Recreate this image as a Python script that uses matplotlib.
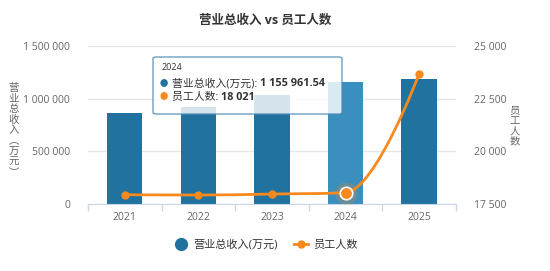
import matplotlib.pyplot as plt
import numpy as np
from matplotlib.path import Path
from matplotlib.patches import PathPatch, FancyBboxPatch
from matplotlib.lines import Line2D

plt.rcParams['font.family'] = ['Open Sans', 'Noto Sans CJK SC', 'DejaVu Sans']

years = ['2021', '2022', '2023', '2024', '2025']
revenue = [859000, 922000, 1033000, 1155961.54, 1183000]
staff = [17920, 17905, 17952, 18021, 23680]
rev_ticks = [0, 500000, 1000000, 1500000]
staff_ticks = [17500, 20000, 22500, 25000]

bar_color = '#21729f'
hover_color = '#3a8fbf'
line_color = '#f7891e'
text_color = '#666666'


def fmt(v):
    return f"{v:,.0f}".replace(',', ' ')


# highcharts-like spline control points
def spline_path(xs, ys, smooth=1.5):
    n = len(xs)
    lc, rc = [None] * n, [None] * n
    for i in range(1, n - 1):
        x, y = xs[i], ys[i]
        lx, ly, nx, ny = xs[i - 1], ys[i - 1], xs[i + 1], ys[i + 1]
        lcx = (smooth * x + lx) / (smooth + 1)
        lcy = (smooth * y + ly) / (smooth + 1)
        rcx = (smooth * x + nx) / (smooth + 1)
        rcy = (smooth * y + ny) / (smooth + 1)
        if rcx != lcx:
            corr = (rcy - lcy) * (rcx - x) / (rcx - lcx) + y - rcy
            lcy += corr
            rcy += corr
        if lcy > ly and lcy > y:
            lcy = max(ly, y)
            rcy = 2 * y - lcy
        elif lcy < ly and lcy < y:
            lcy = min(ly, y)
            rcy = 2 * y - lcy
        if rcy > ny and rcy > y:
            rcy = max(ny, y)
            lcy = 2 * y - rcy
        elif rcy < ny and rcy < y:
            rcy = min(ny, y)
            lcy = 2 * y - rcy
        lc[i] = (lcx, lcy)
        rc[i] = (rcx, rcy)
    verts = [(xs[0], ys[0])]
    codes = [Path.MOVETO]
    for i in range(1, n):
        c1 = rc[i - 1] if rc[i - 1] else (xs[i - 1], ys[i - 1])
        c2 = lc[i] if lc[i] else (xs[i], ys[i])
        verts += [c1, c2, (xs[i], ys[i])]
        codes += [Path.CURVE4] * 3
    return Path(verts, codes)


def vertical_text(s, xpix, ytop, step):
    # stack glyphs one under another (upright CJK axis title)
    for i, ch in enumerate(s):
        fig.text(xpix / W, 1 - (ytop + i * step) / H, ch, ha='center', va='center',
                 fontsize=7.5, color=text_color,
                 family=['Noto Sans CJK SC', 'DejaVu Sans'])


W, H = 550, 271
fig = plt.figure(figsize=(5.5, 2.71), dpi=100)
ax = fig.add_axes([0.16, 0.249, 0.669, 0.581])
ax2 = ax.twinx()

x = np.arange(len(years))
colors = [hover_color if y == '2024' else bar_color for y in years]
ax.bar(x, revenue, width=0.48, color=colors, zorder=2)
ax.set_xlim(-0.5, len(years) - 0.5)
ax.set_ylim(0, 1500000)
ax.set_yticks(rev_ticks)
ax.set_yticklabels([fmt(v) for v in rev_ticks])
ax.grid(axis='y', color='#e6e6e6', linewidth=1, zorder=0)
ax.set_axisbelow(True)
ax.set_xticks(x)
ax.set_xticklabels(years)
ax.set_xticks(np.arange(-0.5, len(years)), minor=True)
ax.tick_params(axis='x', which='major', length=0, pad=6, labelsize=7.5, colors=text_color)
ax.tick_params(axis='x', which='minor', length=5, color='#ccd6eb', width=1)
ax.tick_params(axis='y', length=0, pad=13, labelsize=7.5, colors=text_color)
for s in ['top', 'left', 'right']:
    ax.spines[s].set_visible(False)
    ax2.spines[s].set_visible(False)
ax.spines['bottom'].set_color('#ccd6eb')
ax2.spines['bottom'].set_visible(False)

ax2.set_ylim(17500, 25000)
ax2.set_yticks(staff_ticks)
ax2.set_yticklabels([fmt(v) for v in staff_ticks])
ax2.tick_params(axis='y', length=0, pad=13, labelsize=7.5, colors=text_color)

ax2.add_patch(PathPatch(spline_path(list(x), staff), fill=False,
                        edgecolor=line_color, linewidth=2, zorder=3))
ax2.plot(x, staff, 'o', color=line_color, markersize=5, zorder=4)
hi = years.index('2024')
ax2.plot(x[hi], staff[hi], 'o', color=line_color, markersize=16, alpha=0.25,
         markeredgewidth=0, zorder=4)
ax2.plot(x[hi], staff[hi], 'o', color=line_color, markersize=9,
         markeredgecolor='white', markeredgewidth=1.2, zorder=5)

fig.text(265 / W, 1 - 20 / H, '营业总收入 vs 员工人数', ha='center', va='center',
         fontsize=9, fontweight='bold', color='#333333')
vertical_text('营业总收入︵万元︶', 14, 88, 10.6)
vertical_text('员工人数', 515, 110, 10.6)

# tooltip
tip = FancyBboxPatch((153 / W, 1 - 114 / H), 189 / W, 57 / H,
                     boxstyle='round,pad=0,rounding_size=0.006',
                     transform=fig.transFigure, facecolor='white', alpha=0.82,
                     edgecolor='#4a8ab5', linewidth=1, zorder=10)
fig.patches.append(tip)
fig.text(162 / W, 1 - 68 / H, '2024', fontsize=6.5, color='#333333', va='center', zorder=11)
renderer = fig.canvas.get_renderer()
rows = [(84, bar_color, '营业总收入(万元): ', '1 155 961.54'),
        (97, line_color, '员工人数: ', '18 021')]
for ypix, c, label, val in rows:
    fig.text(160 / W, 1 - ypix / H, '●', fontsize=6, color=c, va='center', zorder=11)
    t = fig.text(172 / W, 1 - ypix / H, label, fontsize=7.8, color='#333333',
                 va='center', zorder=11)
    bb = t.get_window_extent(renderer)
    fig.text(bb.x1 / W, 1 - ypix / H, val, fontsize=7.8, color='#333333',
             va='center', fontweight='bold', zorder=11)

handles = [Line2D([], [], marker='o', linestyle='none', color=bar_color, markersize=8.5),
           Line2D([], [], marker='o', color=line_color, linewidth=2, markersize=5)]
fig.legend(handles, ['营业总收入(万元)', '员工人数'], loc='center left', ncol=2,
           bbox_to_anchor=(174 / W, 1 - 245 / H), frameon=False, fontsize=8,
           handlelength=1.25, columnspacing=1.5, handletextpad=0.45,
           labelcolor='#333333', borderpad=0, borderaxespad=0)

fig.savefig('out.png', dpi=100)
